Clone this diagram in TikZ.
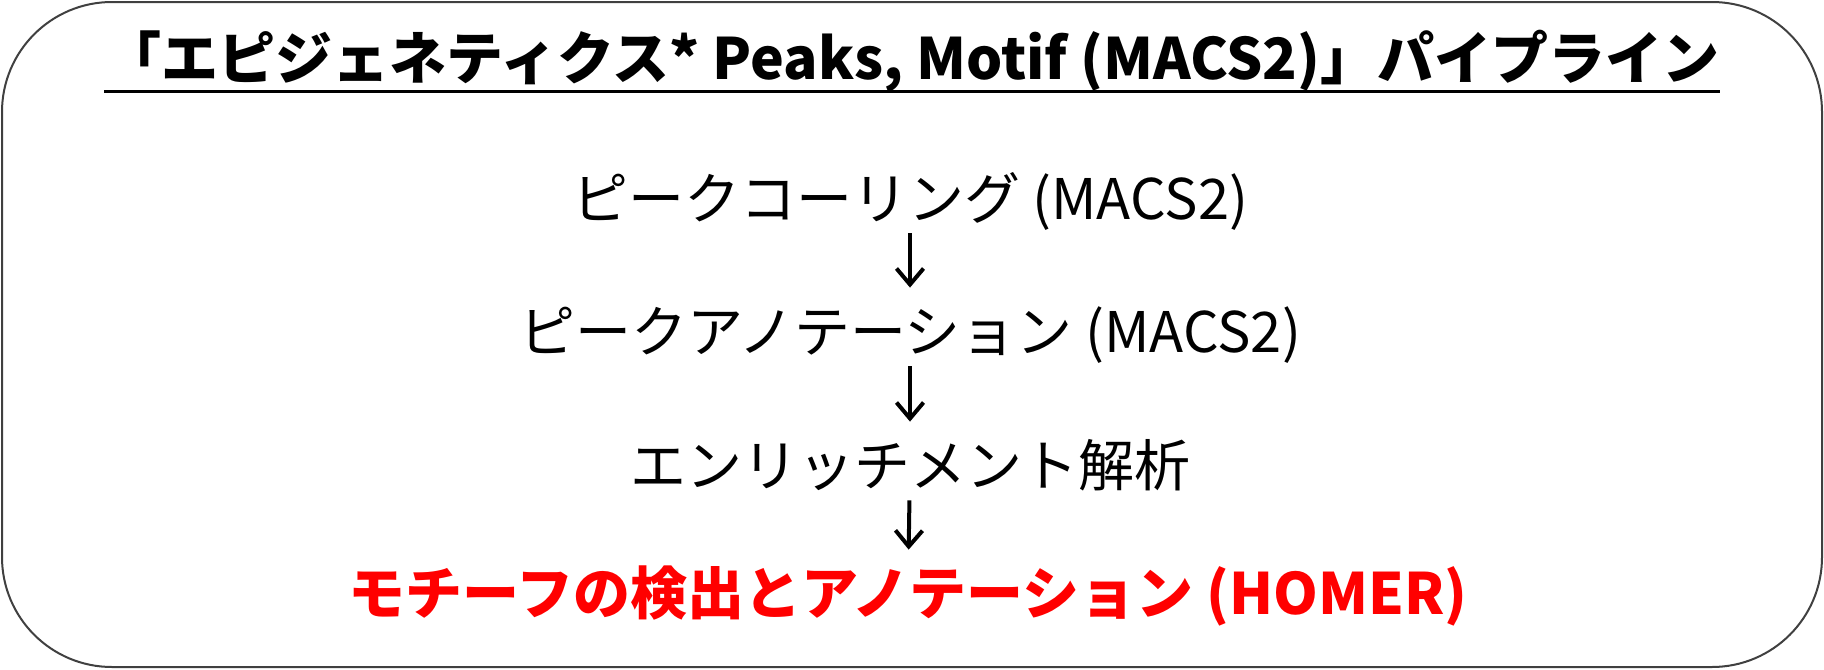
\documentclass[tikz,border=0pt]{standalone}
\usepackage{fontspec}
\setmainfont{Noto Sans CJK JP}
\usetikzlibrary{arrows.meta}
\tikzset{
	step line/.style={anchor=base, inner sep=0pt, text height=22pt, text depth=0pt, font=\fontsize{28pt}{30pt}\selectfont},
	flow/.style={line width=2pt, -{Straight Barb[length=8pt,width=13.5pt]}, shorten <=7pt, shorten >=10pt}
}
\begin{document}
\begin{tikzpicture}[x=0.5pt, y=-0.5pt]
		%%%%% START %%%%%
		\useasboundingbox (0,0) rectangle (1824,669);
		
		\draw[line width=1pt, color=black!75, rounded corners=55pt] (2,2) rectangle (1822,667);
		
		\node[anchor=base, inner sep=0pt, text depth=0pt, font=\fontsize{28.5pt}{31pt}\selectfont\bfseries] (title) at (912,79) {「エピジェネティクス* Peaks, Motif (MACS2)」パイプライン};
		\draw[line width=1.5pt] ([yshift=-6pt]title.south west) -- ([yshift=-6pt]title.south east);
		
		\node[step line] (calling) at (910,219) {ピークコーリング (MACS2)};
		\node[step line] (annot) at (910,352) {ピークアノテーション (MACS2)};
		\node[step line] (enrich) at (910,486) {エンリッチメント解析};
		\node[step line, font=\fontsize{28.5pt}{30pt}\selectfont\bfseries, text=red] (motif) at (908,614) {モチーフの検出とアノテーション (HOMER)};
		
		\draw[flow] (calling) -- (annot);
		\draw[flow] (annot) -- (enrich);
		\draw[flow] (enrich) -- (motif);
		
		%%%%% END %%%%%
	\end{tikzpicture}
\end{document}
